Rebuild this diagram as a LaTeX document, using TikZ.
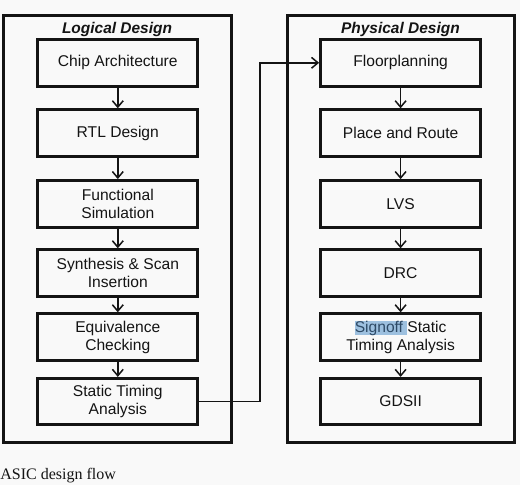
\documentclass[tikz,border=0pt]{standalone}
\usepackage{fontspec}
\setmainfont{Liberation Sans}
\newfontfamily\capfont{Liberation Serif}
\usetikzlibrary{arrows.meta}

\definecolor{bgray}{HTML}{F9F9F9}
\definecolor{inkgray}{HTML}{141414}
\definecolor{hlblue}{HTML}{9DC0DF}
\definecolor{hltext}{HTML}{2E4A66}

\tikzset{
  stage/.style={draw=inkgray, line width=.75mm, minimum width=4cm, minimum height=1.16cm,
    align=center, inner sep=1pt, text=inkgray, font=\fontsize{11.1}{12.8}\selectfont},
  frame/.style={draw=inkgray, line width=.75mm},
  heading/.style={text=inkgray, font=\fontsize{11}{13}\selectfont\bfseries\itshape},
  flow/.style={draw=inkgray, line width=.38mm, -{Straight Barb[length=1.6mm,width=2.7mm]}}
}

\begin{document}
\begin{tikzpicture}
        \pgfmathsetmacro{\xl}{2.945}
        \pgfmathsetmacro{\xr}{10.015}

        \useasboundingbox[fill=bgray] (0,0) rectangle (13,-12.125);

        % the two groups
        \draw[frame] (0.085,-0.4) rectangle (5.775,-11.06);
        \draw[frame] (7.19,-0.4) rectangle (12.87,-11.06);
        \node[heading] (logic) at (2.925,-0.74) {Logical Design};
        \node[heading] (phys) at (10.01,-0.74) {Physical Design};

        % logical design
        \node[stage] (arch) at (\xl,-1.57) {Chip Architecture};
        \node[stage] (rtl) at (\xl,-3.325) {RTL Design};
        \node[stage] (fsim) at (\xl,-5.095) {Functional\\Simulation};
        \node[stage] (synth) at (\xl,-6.825) {Synthesis \& Scan\\Insertion};
        \node[stage] (equiv) at (\xl,-8.425) {Equivalence\\Checking};
        \node[stage] (sta) at (\xl,-10.04) {Static Timing\\Analysis};

        % physical design
        \node[stage] (floor) at (\xr,-1.57) {Floorplanning};
        \node[stage] (pnr) at (\xr,-3.325) {Place and Route};
        \node[stage] (lvs) at (\xr,-5.095) {LVS};
        \node[stage] (drc) at (\xr,-6.825) {DRC};
        \node[stage] (ssta) at (\xr,-8.425)
          {{\setlength{\fboxsep}{0pt}\colorbox{hlblue}{\color{hltext}Signoff\ }}Static\\Timing Analysis};
        \node[stage] (gds) at (\xr,-10.04) {GDSII};

        \coordinate (bend) at (6.5,-1.57);

        \draw[flow] (arch) -- (rtl);
        \draw[flow] (rtl) -- (fsim);
        \draw[flow] (fsim) -- (synth);
        \draw[flow] (synth) -- (equiv);
        \draw[flow] (equiv) -- (sta);
        \draw[flow] (sta.east) -| (bend) -- (floor.west);
        \draw[flow] (floor) -- (pnr);
        \draw[flow] (pnr) -- (lvs);
        \draw[flow] (lvs) -- (drc);
        \draw[flow] (drc) -- (ssta);
        \draw[flow] (ssta) -- (gds);

        \node[anchor=base west, inner sep=0pt, text=inkgray, font=\capfont\fontsize{11.4}{13}\selectfont]
          (caption) at (0,-11.975) {ASIC design flow};
      \end{tikzpicture}
\end{document}
